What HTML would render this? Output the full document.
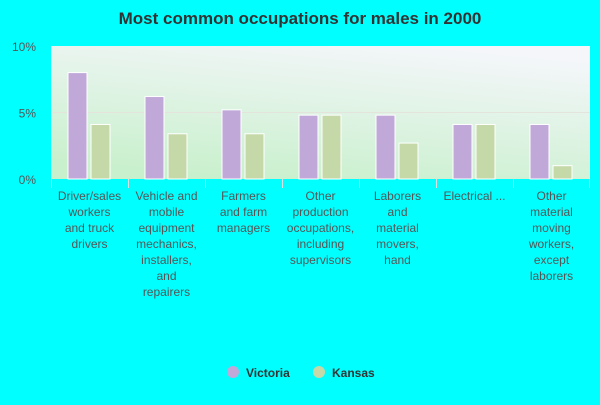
<!DOCTYPE html>
<html><head><meta charset="utf-8"><style>
body{margin:0;background:#00ffff;width:600px;height:400px;overflow:hidden;font-family:"Liberation Sans",sans-serif}
</style></head><body>
<svg width="600" height="400" xmlns="http://www.w3.org/2000/svg">
<defs><linearGradient id="bg" x1="0.3" y1="1" x2="0.7" y2="0">
<stop offset="0" stop-color="#c8f0cc"/><stop offset="1" stop-color="#f4f6fa"/></linearGradient></defs>
<text x="300" y="24" text-anchor="middle" font-size="17" font-weight="bold" fill="#333">Most common occupations for males in 2000</text>
<g id="plot"></g>
<g>
<circle cx="233" cy="372" r="6" fill="#c0a8d8"/>
<text x="246" y="377" font-size="12" font-weight="bold" fill="#333">Victoria</text>
<circle cx="319" cy="372" r="6" fill="#c4d8a8"/>
<text x="332" y="377" font-size="12" font-weight="bold" fill="#333">Kansas</text>
</g>
</svg>
<script>
const categories=[["Driver/sales","workers","and truck","drivers"],["Vehicle and","mobile","equipment","mechanics,","installers,","and","repairers"],["Farmers","and farm","managers"],["Other","production","occupations,","including","supervisors"],["Laborers","and","material","movers,","hand"],["Electrical ..."],["Other","material","moving","workers,","except","laborers"]];
const victoria=[8.0,6.2,5.2,4.8,4.8,4.1,4.1];
const kansas=[4.1,3.4,3.4,4.8,2.7,4.1,1.0];
const yTicks=[0,5,10];
const yTickLabels=["0%","5%","10%"];
const NS="http://www.w3.org/2000/svg";
const L=51,R=590,T=46,B=179;
const bw=(R-L)/categories.length;
const y=v=>B-(v/10)*(B-T);
const x=i=>L+i*bw;
const g=document.getElementById('plot');
function mk(t,a){const e=document.createElementNS(NS,t);for(const k in a)e.setAttribute(k,a[k]);g.appendChild(e);return e;}
let e=mk('rect',{x:L,y:T,width:R-L,height:B-T,fill:'url(#bg)'});


yTicks.forEach((t,i)=>{
 if(t>0&&t<10){let l=mk('line',{x1:L,x2:R,y1:y(t),y2:y(t),stroke:'#e4e4dc','stroke-width':1});
 
 }
 let tx=mk('text',{x:36,y:y(t)+5,'text-anchor':'end','font-size':12,fill:'#555'});tx.textContent=yTickLabels[i];
 
 
});
categories.forEach((c,i)=>{
 let b1=mk('rect',{x:x(i)+17,y:y(victoria[i]),width:19,height:B-y(victoria[i]),fill:'#c0a8d8',stroke:'#fff','stroke-width':1});
 
 
 let b2=mk('rect',{x:x(i)+40,y:y(kansas[i]),width:19,height:B-y(kansas[i]),fill:'#c4d8a8',stroke:'#fff','stroke-width':1});
 
 
 let tk=mk('line',{x1:x(i)+0.5,x2:x(i)+0.5,y1:B,y2:B+9,stroke:'#ddd'});
 
 
 let tx=mk('text',{'text-anchor':'middle','font-size':12,fill:'#555'});
 
 
 c.forEach((s,j)=>{const ts=document.createElementNS(NS,'tspan');ts.setAttribute('x',x(i)+bw/2);ts.setAttribute('y',200+j*16);ts.textContent=s;tx.appendChild(ts);});
});
let tk=mk('line',{x1:R-0.5,x2:R-0.5,y1:B,y2:B+9,stroke:'#ddd'});


</script>
</body></html>
